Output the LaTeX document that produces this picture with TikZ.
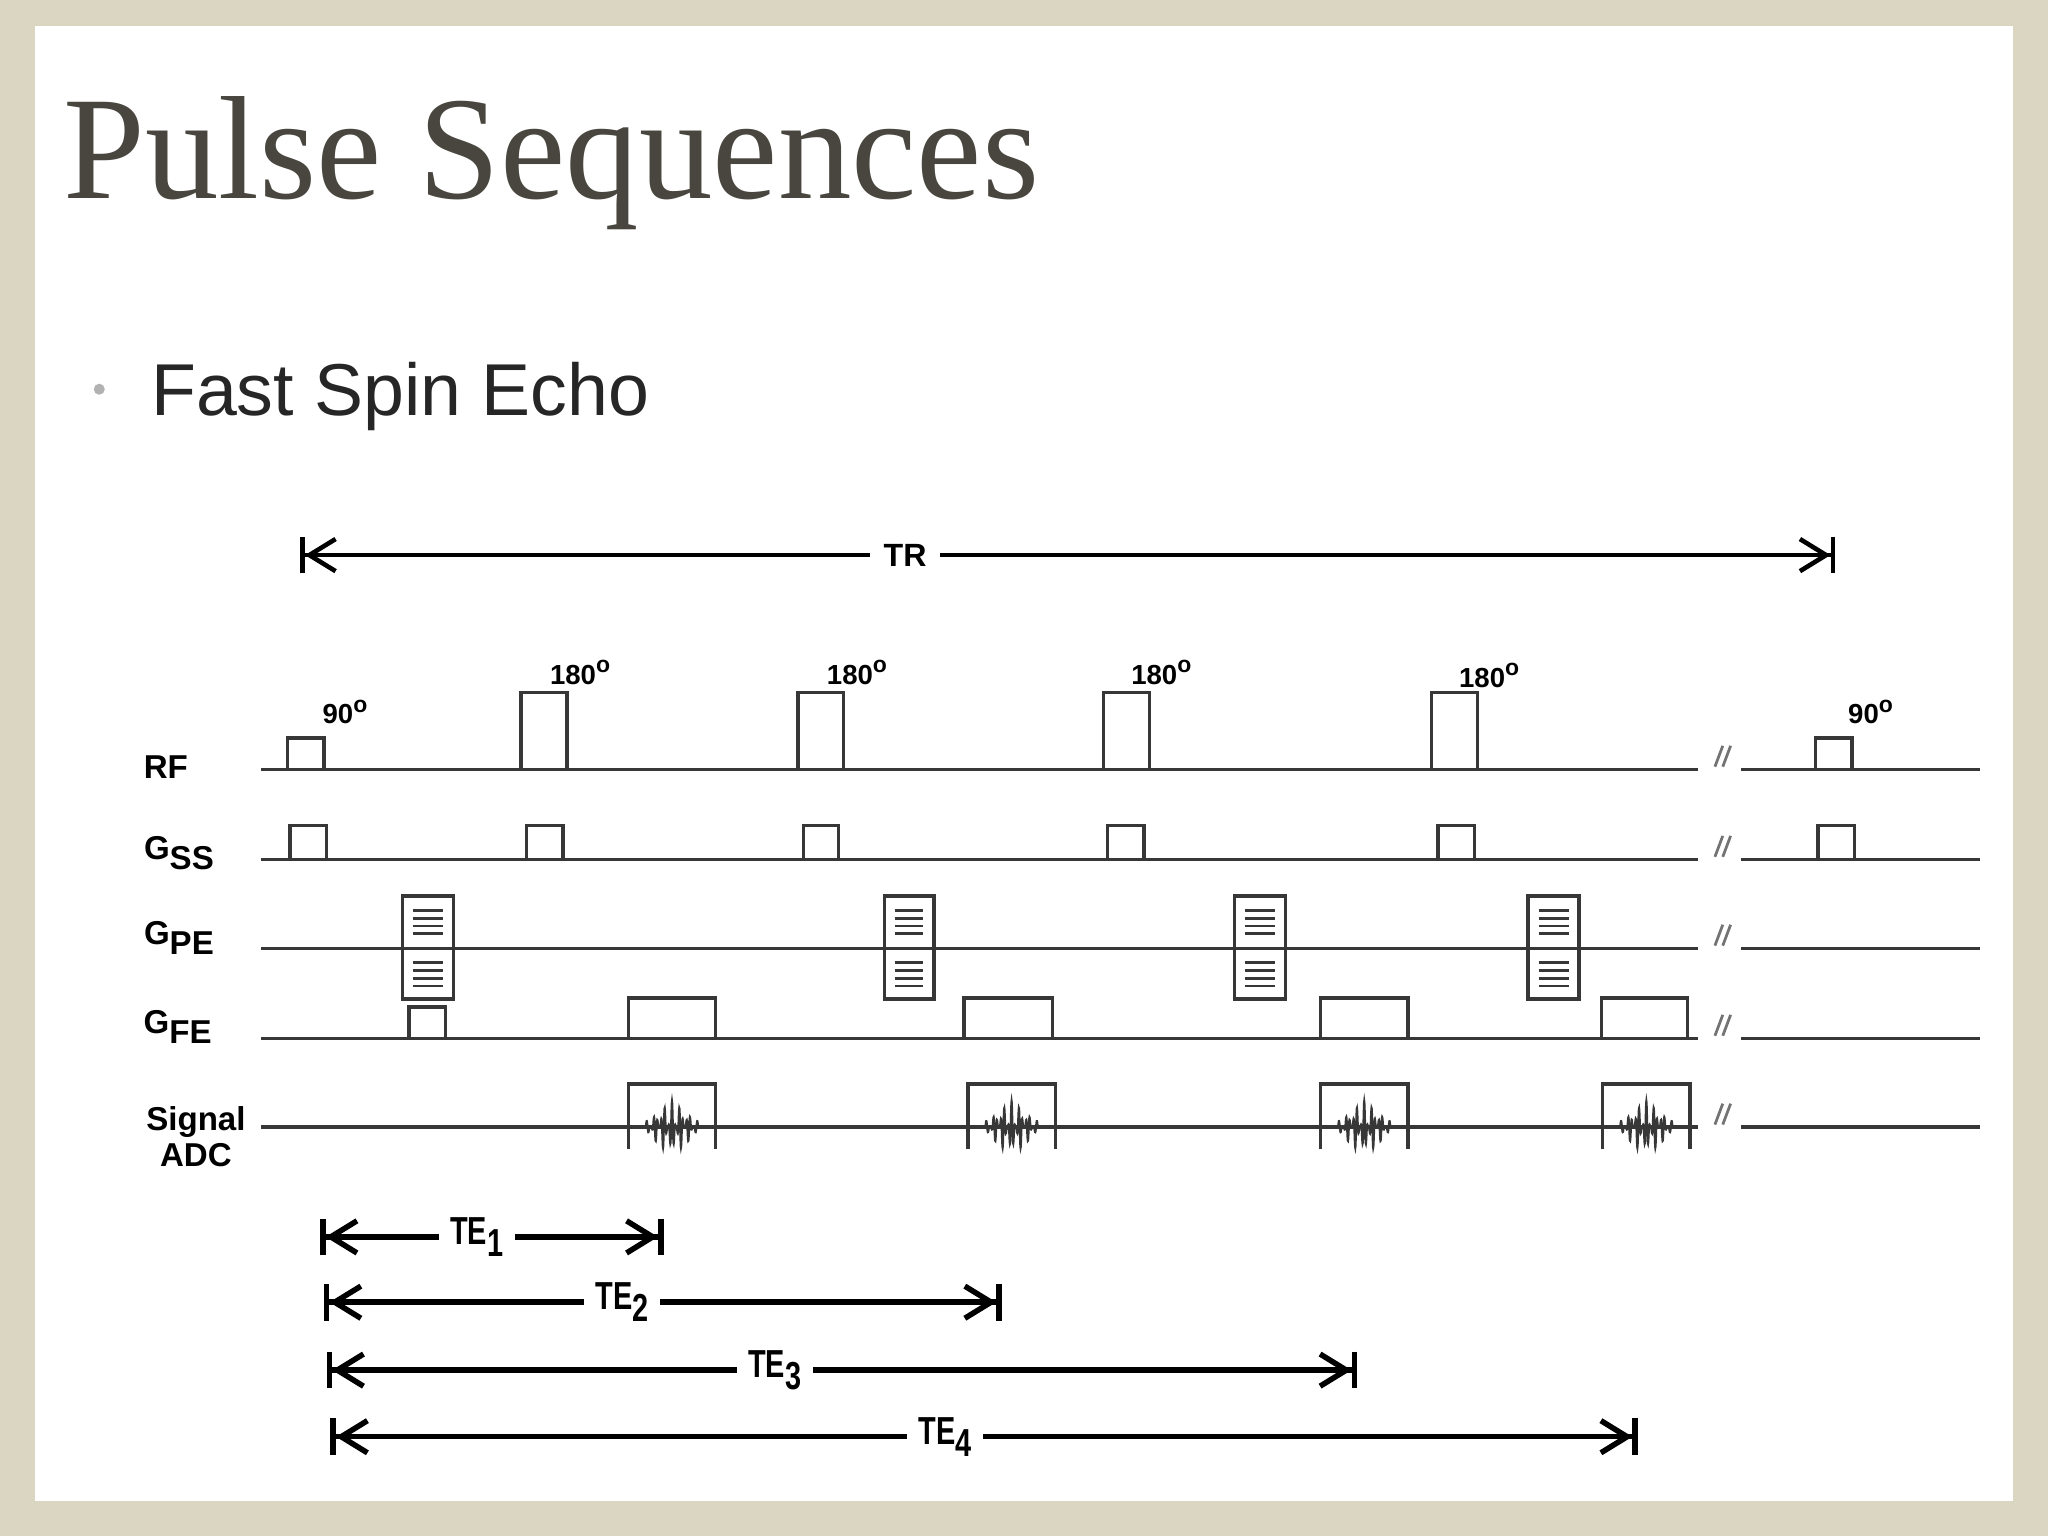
\documentclass[tikz,border=0pt]{standalone}
\usepackage{fontspec}
\setmainfont{Liberation Serif}
\setsansfont{Liberation Sans}
\newfontfamily\narrowfont[FakeStretch=0.74]{Liberation Sans}
\usetikzlibrary{arrows.meta}
\definecolor{slideframe}{RGB}{218,214,193}
\definecolor{titlegray}{RGB}{72,70,62}
\definecolor{trace}{RGB}{55,55,55}

\begin{document}
\begin{tikzpicture}[x=0.01cm, y=-0.01cm,
    chan/.style={trace, line width=0.75pt},
    pulse/.style={trace, line width=0.75pt},
    steps/.style={trace, line width=0.6pt},
    breakmark/.style={trace!70, line width=0.6pt},
    chanlabel/.style={font=\sffamily\bfseries\fontsize{7.2}{7.8}\selectfont, inner sep=0pt},
    fliplabel/.style={font=\sffamily\bfseries\fontsize{6}{7}\selectfont, inner sep=0pt},
    timespan/.style={{Bar[width=8pt]Straight Barb[length=5.7pt,width=7pt]}-{Straight Barb[length=5.7pt,width=7pt]Bar[width=8pt]}, line width=1pt},
    spanlabel/.style={fill=white, inner xsep=3pt, inner ysep=1pt},
    trlabel/.style={spanlabel, font=\sffamily\bfseries\fontsize{7}{8}\selectfont},
    telabel/.style={spanlabel, inner xsep=2.5pt, font=\narrowfont\bfseries\fontsize{8.5}{9}\selectfont}]
                \fill[slideframe] (0,0) rectangle (1568,1176);
                \fill[white] (27,20) rectangle (1541,1149);
                \node[anchor=base west, inner sep=0pt, text=titlegray, font=\fontsize{32}{38}\selectfont] (title) at (48,152) {Pulse Sequences};
                \fill[gray!60] (76,298) circle (1.2pt);
                \node[anchor=base west, inner sep=0pt, text=black!85, font=\sffamily\fontsize{16}{19}\selectfont] (fse) at (115,318) {Fast Spin Echo};
                \coordinate (TRa) at (230,425);
                \coordinate (TRb) at (1405,425);
                \draw[timespan] (TRa) -- node[trlabel, pos=0.394] (TR) {TR} (TRb);
                \node[chanlabel] (RF) at (127,587) {RF};
                \node[chanlabel] (Gss) at (137,653) {G\raisebox{-0.3em}{SS}};
                \node[chanlabel] (Gpe) at (137,718) {G\raisebox{-0.3em}{PE}};
                \node[chanlabel] (Gfe) at (136,786) {G\raisebox{-0.3em}{FE}};
                \node[chanlabel, align=center] (sig) at (150,870) {Signal\\ADC};
                \foreach \y in {589,658,726,795,863} {
                    \draw[chan] (200,\y) -- (1300,\y);
                    \draw[chan] (1333,\y) -- (1516,\y);
                    \draw[breakmark] (1313,\y-2) -- (1319,\y-18);
                    \draw[breakmark] (1319,\y-2) -- (1325,\y-18);
                }
                \foreach \a/\b in {220/248,1390/1418}
                    \draw[pulse] (\a,589) |- (\b,565) -- (\b,589);
                \foreach \a/\b in {399/434,611/646,845/880,1096/1131}
                    \draw[pulse] (\a,589) |- (\b,530) -- (\b,589);
                \node[fliplabel] (ex1) at (265,545) {90\textsuperscript{o}};
                \node[fliplabel] (ref1) at (445,515) {180\textsuperscript{o}};
                \node[fliplabel] (ref2) at (657,515) {180\textsuperscript{o}};
                \node[fliplabel] (ref3) at (890,515) {180\textsuperscript{o}};
                \node[fliplabel] (ref4) at (1141,517) {180\textsuperscript{o}};
                \node[fliplabel] (ex2) at (1433,545) {90\textsuperscript{o}};
                \foreach \a/\b in {222/250,403/431,615/642,848/876,1101/1129,1392/1420}
                    \draw[pulse] (\a,658) |- (\b,632) -- (\b,658);
                \foreach \a/\b in {308/347,677/715,945/984,1170/1209} {
                    \draw[pulse] (\a,686) rectangle (\b,765);
                    \foreach \y in {697,703,709,715,737,743,749,755}
                        \draw[steps] (\a+8,\y) -- (\b-8,\y);
                }
                \draw[pulse] (313,795) |- (341,771) -- (341,795);
                \foreach \a/\b in {481/548,738/806,1011/1078,1226/1292}
                    \draw[pulse] (\a,795) |- (\b,764) -- (\b,795);
                \foreach \a/\b in {481/548,741/808,1011/1078,1227/1294} {
                    \draw[pulse] (\a,880) |- (\b,830) -- (\b,880);
                    \draw[trace, line width=0.45pt] plot[domain=-20:20, samples=281] ({(\a+\b)/2+\x}, {863-20*exp(-\x*\x/260)*(0.5+0.5*cos(\x*56))*cos(\x*130)});
                }
                \coordinate (TE1a) at (245,947);
                \coordinate (TE1b) at (508,947);
                \coordinate (TE2a) at (248,997);
                \coordinate (TE2b) at (767,997);
                \coordinate (TE3a) at (250,1049);
                \coordinate (TE3b) at (1039,1049);
                \coordinate (TE4a) at (253,1100);
                \coordinate (TE4b) at (1254,1100);
                \draw[timespan, line width=1.2pt] (TE1a) -- node[telabel, pos=0.456] (TE1) {TE\raisebox{-0.3em}{1}} (TE1b);
                \draw[timespan, line width=1.2pt] (TE2a) -- node[telabel, pos=0.44] (TE2) {TE\raisebox{-0.3em}{2}} (TE2b);
                \draw[timespan, line width=1.2pt] (TE3a) -- node[telabel, pos=0.435] (TE3) {TE\raisebox{-0.3em}{3}} (TE3b);
                \draw[timespan, line width=1.2pt] (TE4a) -- node[telabel, pos=0.47] (TE4) {TE\raisebox{-0.3em}{4}} (TE4b);
            \end{tikzpicture}
\end{document}
